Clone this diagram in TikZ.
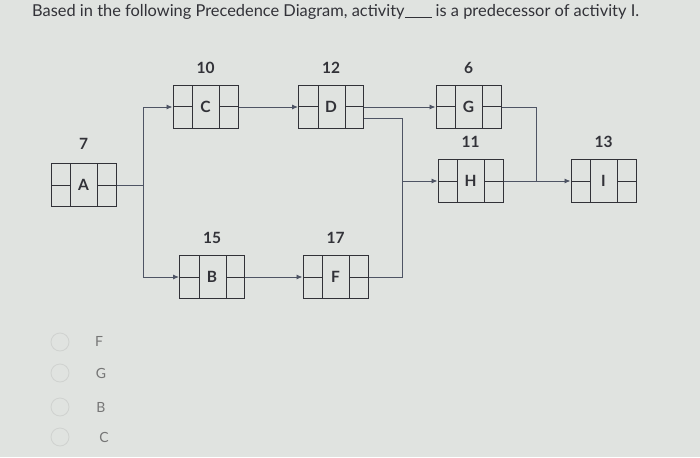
\documentclass[tikz,border=0pt]{standalone}
\usepackage{fontspec}
\setmainfont{Lato}
\usetikzlibrary{arrows.meta, positioning, calc}
\definecolor{paper}{RGB}{224,227,224}
\definecolor{inkgray}{RGB}{50,50,56}
\definecolor{wiregray}{RGB}{78,84,100}
\definecolor{optgray}{RGB}{118,118,118}
\definecolor{radiogray}{RGB}{208,210,208}

\begin{document}
\begin{tikzpicture}[x=1pt, y=-1pt,
  act/.style={draw=inkgray, line width=1pt, minimum width=65pt, minimum height=43pt, inner sep=0pt,
    font=\fontsize{15.5}{15.5}\selectfont\bfseries, text=inkgray,
    path picture={
      \draw[inkgray, line width=1pt]
        ($(path picture bounding box.south west)!0.3!(path picture bounding box.south east)$) --
        ($(path picture bounding box.north west)!0.3!(path picture bounding box.north east)$)
        ($(path picture bounding box.south west)!0.72!(path picture bounding box.south east)$) --
        ($(path picture bounding box.north west)!0.72!(path picture bounding box.north east)$)
        (path picture bounding box.west) --
        ($(path picture bounding box.west)!0.3!(path picture bounding box.east)$)
        ($(path picture bounding box.west)!0.72!(path picture bounding box.east)$) --
        (path picture bounding box.east);
    }},
  dur/.style={font=\fontsize{15.5}{15.5}\selectfont\bfseries, text=inkgray},
  wire/.style={draw=wiregray, line width=0.9pt},
  arr/.style={wire, -{Latex[length=6pt, width=5pt]}},
  opt/.style={font=\fontsize{14}{14}\selectfont, text=optgray},
  radio/.style={circle, draw=radiogray, line width=0.8pt, minimum size=18pt, inner sep=0pt}
]
  \fill[paper] (0,0) rectangle (700,457);
  \useasboundingbox (0,0) rectangle (700,457);

  \node[anchor=west, inner sep=0pt, font=\fontsize{16.4}{18}\selectfont, text=inkgray] (title) at (32,12)
    {Based in the following Precedence Diagram, activity\rule[-1.2pt]{27pt}{0.6pt} is a predecessor of activity I.};

  % activities
  \node[act] (A) at (83.5,185) {A};
  \node[act] (C) at (205.5,107) {C};
  \node[act] (D) at (331,107) {D};
  \node[act] (G) at (468.5,107) {G};
  \node[act] (H) at (470.5,181) {H};
  \node[act] (I) at (603.5,181) {I};
  \node[act] (B) at (212,277) {B};
  \node[act] (F) at (335.5,277) {F};

  % durations
  \node[dur, above=10pt of A] (Adur) {7};
  \node[dur, above=8pt of C] (Cdur) {10};
  \node[dur, above=8pt of D] (Ddur) {12};
  \node[dur, above=8pt of G] (Gdur) {6};
  \node[dur, above=8pt of H] (Hdur) {11};
  \node[dur, above=8pt of I] (Idur) {13};
  \node[dur, above=8pt of B] (Bdur) {15};
  \node[dur, above=8pt of F] (Fdur) {17};

  % links
  \coordinate (splitA) at (143,185);
  \draw[wire] (A.east) -- (splitA);
  \draw[arr] (splitA) |- (C.west);
  \draw[arr] (splitA) |- (B.west);
  \draw[arr] (C.east) -- (D.west);
  \draw[arr] (D.east) -- (G.west);
  \draw[arr] (B.east) -- (F.west);

  \coordinate (Dlow) at ([yshift=-11pt]D.east);
  \coordinate (mergeDF) at (402,118);
  \coordinate (splitH) at (402,181);
  \draw[wire] (Dlow) -- (mergeDF) -- (mergeDF |- F.east) -- (F.east);
  \draw[arr] (splitH) -- (H.west);

  \coordinate (mergeGI) at (536,181);
  \draw[wire] (G.east) -| (mergeGI);
  \draw[arr] (H.east) -- (I.west);

  % answer options
  \node[radio] (radF) at (60,342) {};
  \node[radio] (radG) at (60,373) {};
  \node[radio] (radB) at (60,407) {};
  \node[radio] (radC) at (60,437) {};
  \node[opt] (optF) at (99,341) {F};
  \node[opt] (optG) at (101,373) {G};
  \node[opt] (optB) at (101,407) {B};
  \node[opt] (optC) at (104,437) {C};
\end{tikzpicture}
\end{document}
